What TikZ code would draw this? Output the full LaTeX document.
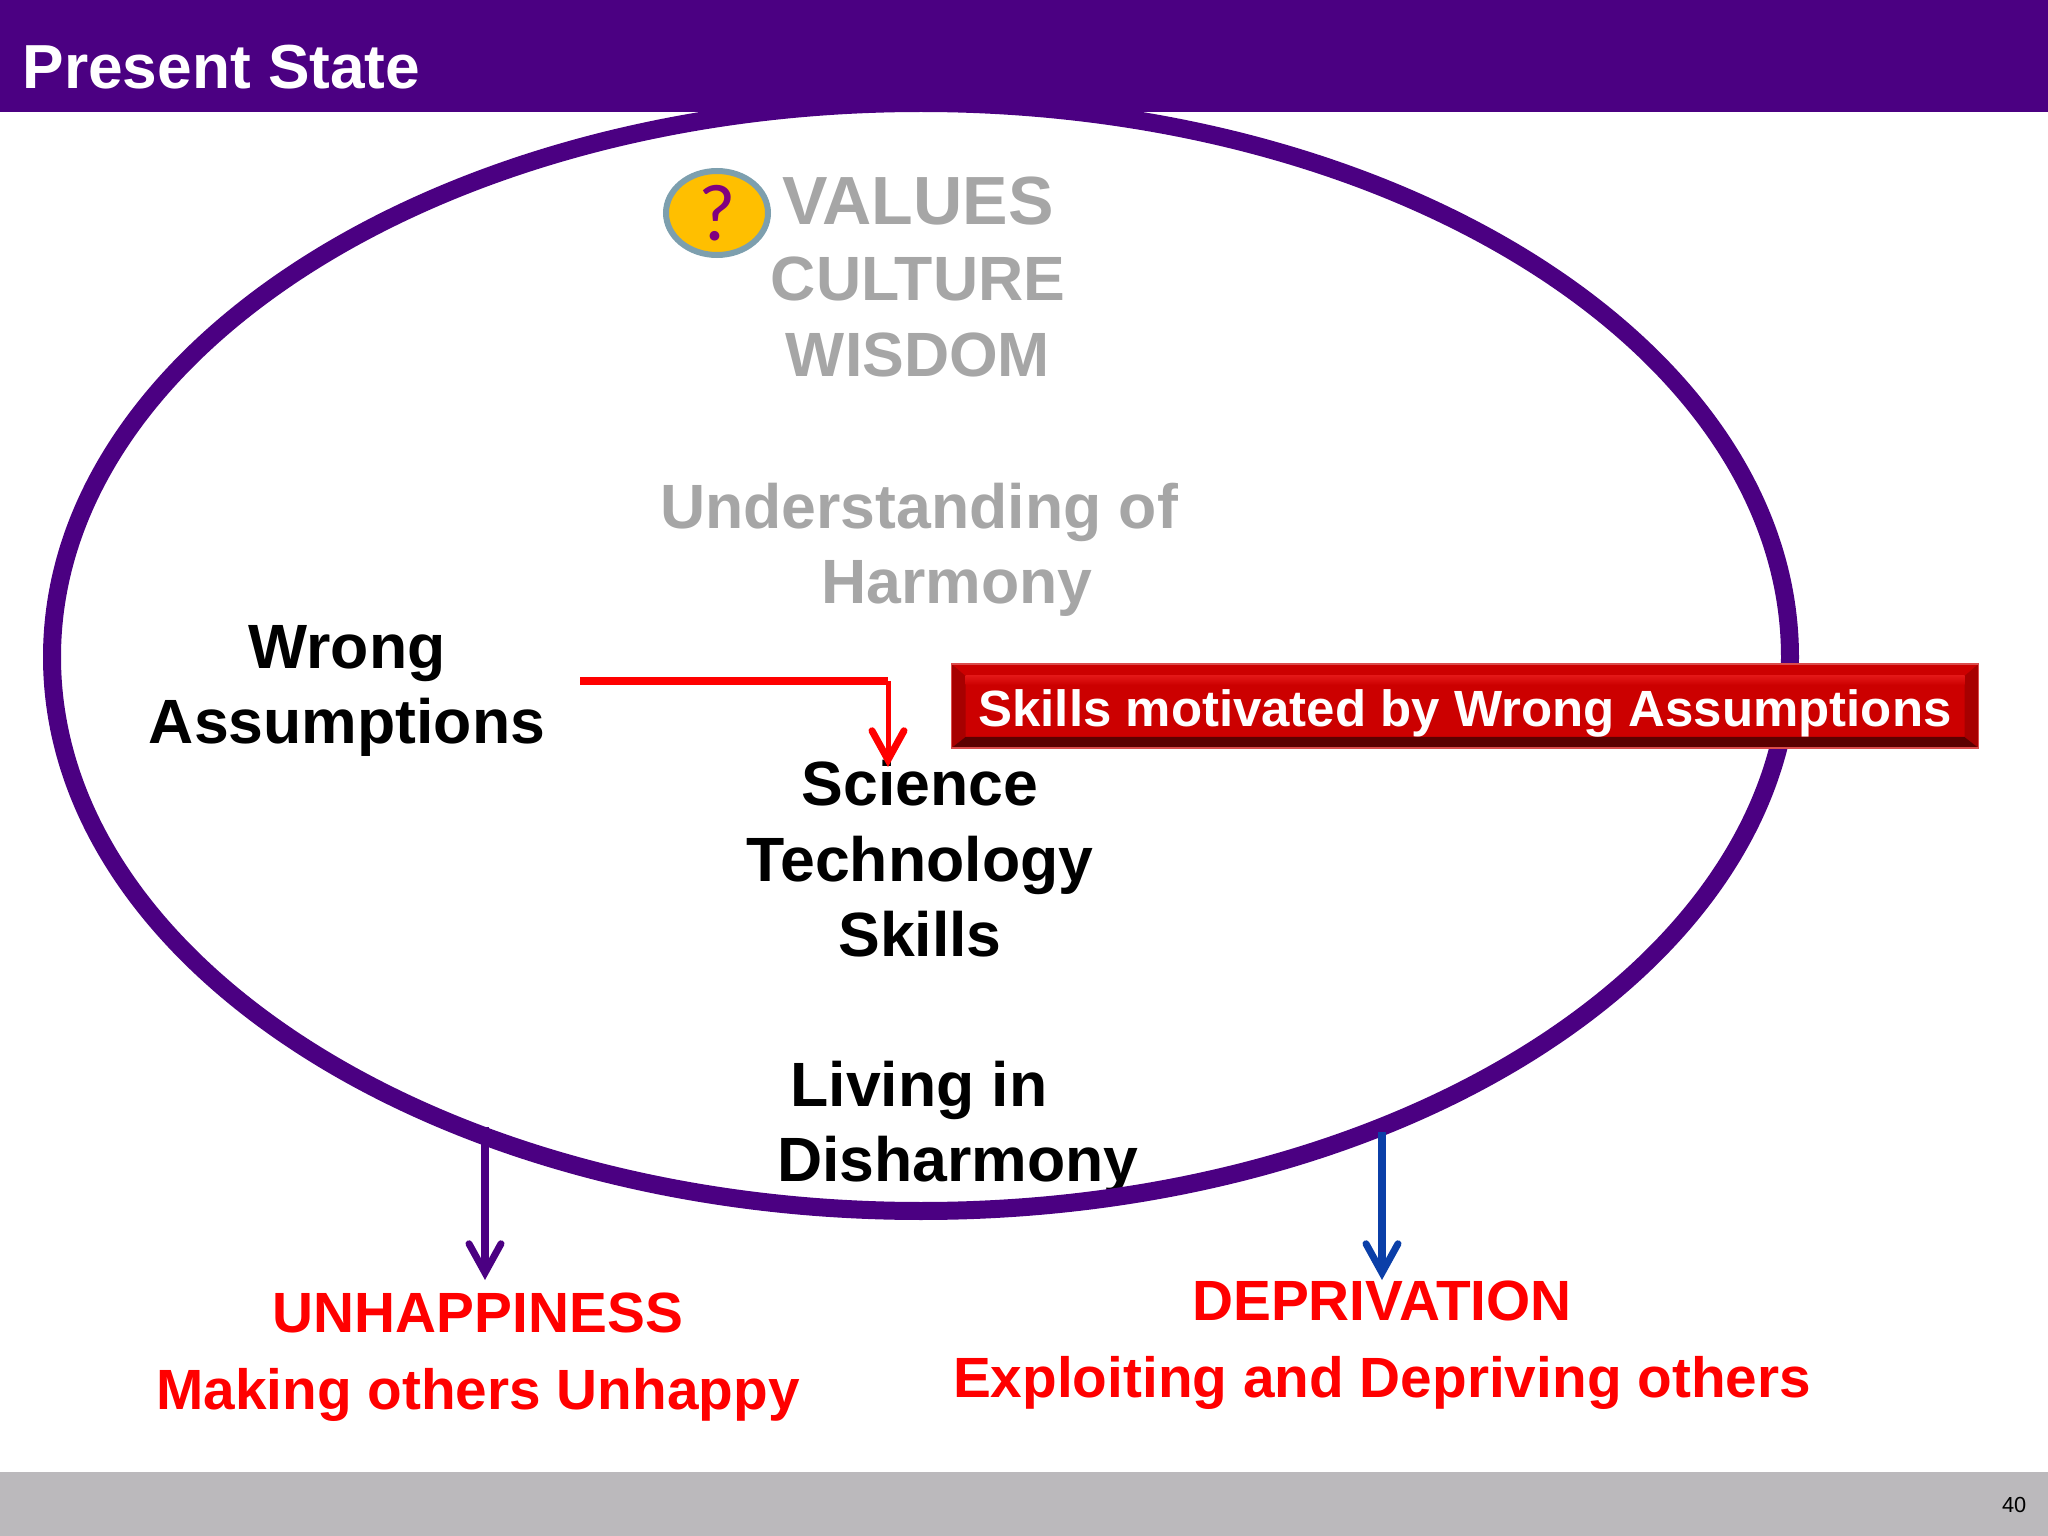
\documentclass[tikz,border=0pt]{standalone}
\usepackage{fontspec}
\setmainfont{Liberation Sans}
\newfontfamily\calibrifont{Carlito}
\usetikzlibrary{arrows.meta,shapes.geometric}
\definecolor{deeppurple}{HTML}{4B0082}
\definecolor{footgrey}{HTML}{BBB9BC}
\definecolor{fadedgrey}{HTML}{A6A6A6}
\definecolor{deepblue}{HTML}{0B3FA8}
\definecolor{boxred}{HTML}{CC0000}
\tikzset{
  slidetext/.style={font=\fontsize{17.8}{21.5}\selectfont\bfseries, align=center, inner sep=0pt},
  fadedtext/.style={slidetext, text=fadedgrey},
  darktext/.style={slidetext, text=black},
  redtext/.style={font=\fontsize{16.15}{21.5}\selectfont\bfseries, align=center, inner sep=0pt, text=red},
  opentip/.style={-{Straight Barb[length=2.9mm, width=3.2mm, line width=.7mm, line cap=round, line join=miter]}},
  skillbox/.style={
    rectangle, inner sep=0pt, minimum width=10.27cm, minimum height=.84cm,
    draw=boxred!70!white, line width=.3pt, fill=boxred, text=white,
    font=\fontsize{14.5}{18}\selectfont\bfseries,
    path picture={
      \fill[boxred!82!black] (path picture bounding box.north west) -- ++(.14,.12) -- ++(0,.61) -- ++(-.14,.11) -- cycle;
      \fill[boxred!82!black] (path picture bounding box.north east) -- ++(-.14,.12) -- ++(0,.61) -- ++(.14,.11) -- cycle;
      \shade[top color=red!80!white, bottom color=boxred] (path picture bounding box.north west) ++(.14,.12) rectangle ++(9.99,.09);
      \fill[boxred!45!black] (path picture bounding box.south west) -- ++(.14,-.11) -- ++(9.99,0) -- ++(.14,.11) -- cycle;
    }},
}
\begin{document}
\begin{tikzpicture}[y=-1cm]
    \useasboundingbox (0,0) rectangle (20.48,15.36);

    \node[darktext] (living) at (9.19,10.90) {Living in};
    \node[darktext] (dis) at (9.58,11.65) {Disharmony};
    \node[ellipse, draw=deeppurple, line width=1.8mm, outer sep=0pt, inner sep=0pt,
      minimum width=17.38cm, minimum height=11.08cm] (ring) at (9.21,6.57) {};

    \fill[deeppurple] (0,0) rectangle (20.48,1.12);
    \fill[footgrey] (0,14.72) rectangle (20.48,15.36);
    \node[anchor=west, inner sep=0pt, text=white, font=\fontsize{17.7}{22}\selectfont\bfseries] (title) at (.22,.67) {Present State};
    \node[anchor=east, inner sep=0pt, font=\fontsize{6.2}{8}\selectfont] (page) at (20.27,15.05) {40};

    \node[ellipse, draw=cyan!30!gray, fill=orange!50!yellow, line width=.6mm, outer sep=0pt,
      inner sep=0pt, minimum width=1.02cm, minimum height=.84cm] (query) at (7.17,2.13)
      {\fontsize{23}{23}\selectfont\calibrifont\color{violet}?};

    \node[fadedtext] (values) at (9.18,2.77) {{\fontsize{19.4}{21.5}\selectfont VALUES}\\CULTURE\\WISDOM};
    \node[fadedtext] (under) at (9.19,5.12) {Understanding of};
    \node[fadedtext] (harmony) at (9.57,5.88) {Harmony};

    \node[darktext] (wrong) at (3.47,6.91) {Wrong\\Assumptions};
    \node[darktext] (science) at (9.20,8.59) {Science\\Technology\\Skills};

    \node[skillbox] (skills) at (14.65,7.06) {\raisebox{-2.05mm}[0pt][0pt]{Skills motivated by Wrong Assumptions}};

    \node[redtext] (unhappy) at (4.78,13.57) {UNHAPPINESS\\[.3pt]Making others Unhappy};
    \node[redtext] (depriv) at (13.82,13.45) {DEPRIVATION\\[.3pt]Exploiting and Depriving others};

    \coordinate (wrongout) at (5.80,6.81);
    \coordinate (bend) at (8.88,6.81);
    \coordinate (scitop) at (8.88,7.67);
    \coordinate (ringl) at (4.85,11.27);
    \coordinate (ringr) at (13.82,11.32);
    \coordinate (unhtop) at (4.85,12.80);
    \coordinate (deptop) at (13.82,12.80);

    \draw[red, line width=.85mm] (wrongout) -- (bend);
    \draw[red, line width=.5mm, opentip] (bend) -- (scitop);
    \draw[deeppurple, line width=.8mm, opentip] (ringl) -- (unhtop);
    \draw[deepblue, line width=.8mm, opentip] (ringr) -- (deptop);
\end{tikzpicture}
\end{document}
